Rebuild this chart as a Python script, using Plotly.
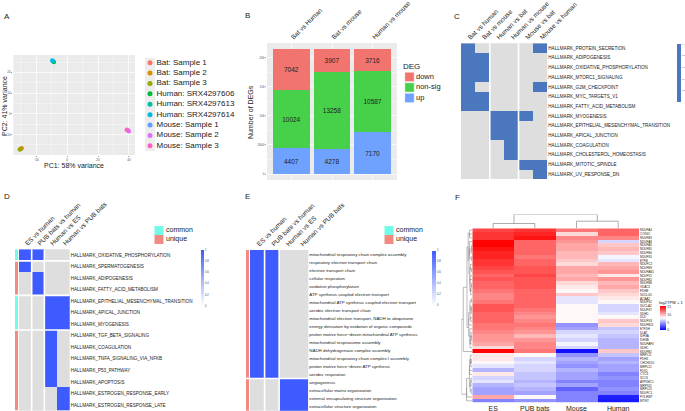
import numpy as np
import plotly.graph_objects as go

W, H = 685, 411
FONT = "Liberation Sans, Arial, sans-serif"

# ---------------- Panel A: PCA ----------------
pca_samples = ["Bat: Sample 1", "Bat: Sample 2", "Bat: Sample 3",
               "Human: SRX4297606", "Human: SRX4297613", "Human: SRX4297614",
               "Mouse: Sample 1", "Mouse: Sample 2", "Mouse: Sample 3"]
pca_pc1 = [-30.0, -29.4, -30.6, -8.6, -9.1, -9.6, 39.2, 39.9, 38.6]
pca_pc2 = [-17.0, -16.7, -17.3, 25.0, 25.4, 25.8, -8.0, -8.4, -7.7]
pca_colors = ["#F8766D", "#D39200", "#93AA00", "#00BA38", "#00C19F",
              "#00B9E3", "#619CFF", "#DB72FB", "#FF61C3"]
pca_xticks = [-20, 0, 20, 40]
pca_yticks = [-10, 0, 10, 20]

# ---------------- Panel B: DEG counts ----------------
deg_comparisons = ["Bat vs Human", "Bat vs mouse", "Human vs mouse"]
deg_up = [4407, 4278, 7170]
deg_nonsig = [10024, 13258, 10587]
deg_down = [7042, 3907, 3716]
deg_yticks = [0, 5000, 10000, 15000, 20000]
deg_levels = ["down", "non-sig", "up"]
deg_colors = {"down": "#F2746E", "non-sig": "#47D14A", "up": "#6FA1FF"}

# ---------------- Panel C: hallmark pathways ----------------
c_columns = ["Bat vs human", "Bat vs mouse", "Human vs bat",
             "Human vs mouse", "Mouse vs bat", "Mouse vs human"]
c_col_groups = [2, 2, 2]
c_pathways = ["HALLMARK_PROTEIN_SECRETION", "HALLMARK_ADIPOGENESIS",
              "HALLMARK_OXIDATIVE_PHOSPHORYLATION", "HALLMARK_MTORC1_SIGNALING",
              "HALLMARK_G2M_CHECKPOINT", "HALLMARK_MYC_TARGETS_V1",
              "HALLMARK_FATTY_ACID_METABOLISM", "HALLMARK_MYOGENESIS",
              "HALLMARK_EPITHELIAL_MESENCHYMAL_TRANSITION", "HALLMARK_APICAL_JUNCTION",
              "HALLMARK_COAGULATION", "HALLMARK_CHOLESTEROL_HOMEOSTASIS",
              "HALLMARK_MITOTIC_SPINDLE", "HALLMARK_UV_RESPONSE_DN"]
c_matrix = [
    [1, 0, 0, 0, 0, 1],
    [1, 1, 0, 0, 0, 0],
    [1, 1, 0, 0, 0, 0],
    [1, 1, 0, 0, 0, 0],
    [1, 0, 0, 0, 0, 1],
    [1, 1, 0, 0, 0, 0],
    [1, 1, 0, 0, 0, 0],
    [0, 0, 1, 1, 1, 0],
    [0, 0, 1, 1, 0, 0],
    [0, 0, 1, 1, 0, 0],
    [0, 0, 0, 1, 0, 0],
    [0, 0, 0, 1, 0, 0],
    [0, 0, 0, 0, 1, 1],
    [0, 0, 0, 0, 0, 1],
]

# ---------------- Panel D ----------------
d_columns = ["ES vs human", "PUB bats vs human", "Human vs ES", "Human vs PUB bats"]
d_col_groups = [1, 1, 2]
d_pathways = ["HALLMARK_OXIDATIVE_PHOSPHORYLATION", "HALLMARK_SPERMATOGENESIS",
              "HALLMARK_ADIPOGENESIS", "HALLMARK_FATTY_ACID_METABOLISM",
              "HALLMARK_EPITHELIAL_MESENCHYMAL_TRANSITION", "HALLMARK_APICAL_JUNCTION",
              "HALLMARK_MYOGENESIS", "HALLMARK_TGF_BETA_SIGNALING",
              "HALLMARK_COAGULATION", "HALLMARK_TNFA_SIGNALING_VIA_NFKB",
              "HALLMARK_P53_PATHWAY", "HALLMARK_APOPTOSIS",
              "HALLMARK_ESTROGEN_RESPONSE_EARLY", "HALLMARK_ESTROGEN_RESPONSE_LATE"]
d_row_groups = [1, 3, 3, 7]
d_annot = ["common", "unique", "unique", "unique", "common", "common", "common",
           "unique", "unique", "unique", "unique", "unique", "unique", "unique"]
d_matrix = [
    [1, 1, 0, 0],
    [1, 0, 0, 0],
    [0, 1, 0, 0],
    [0, 1, 0, 0],
    [0, 0, 1, 1],
    [0, 0, 1, 1],
    [0, 0, 1, 1],
    [0, 0, 1, 0],
    [0, 0, 1, 0],
    [0, 0, 1, 0],
    [0, 0, 1, 0],
    [0, 0, 1, 0],
    [0, 0, 0, 1],
    [0, 0, 0, 1],
]

# ---------------- Panel E ----------------
e_columns = ["ES vs human", "PUB bats vs human", "Human vs ES", "Human vs PUB bats"]
e_col_groups = [1, 1, 2]
e_terms = ["mitochondrial respiratory chain complex assembly",
           "respiratory electron transport chain",
           "electron transport chain",
           "cellular respiration",
           "oxidative phosphorylation",
           "ATP synthesis coupled electron transport",
           "mitochondrial ATP synthesis coupled electron transport",
           "aerobic electron transport chain",
           "mitochondrial electron transport, NADH to ubiquinone",
           "energy derivation by oxidation of organic compounds",
           "proton motive force\u2212driven mitochondrial ATP synthesis",
           "mitochondrial respirasome assembly",
           "NADH dehydrogenase complex assembly",
           "mitochondrial respiratory chain complex I assembly",
           "proton motive force\u2212driven ATP synthesis",
           "aerobic respiration",
           "angiogenesis",
           "extracellular matrix organization",
           "external encapsulating structure organization",
           "extracellular structure organization"]
e_row_groups = [16, 4]
e_annot = ["unique"] * 20
e_matrix = [[1, 1, 0, 0]] * 16 + [[0, 0, 1, 1]] * 4

annot_levels = ["common", "unique"]
annot_colors = {"common": "#72FBE6", "unique": "#F28B82"}

# ---------------- Panel F: expression heatmap ----------------
f_samples = ["ES", "PUB bats", "Mouse", "Human"]
f_genes = ["NDUFA4", "COX6C", "NDUFB3", "NDUFA8", "NDUFA2", "NDUFB5", "NDUFB6", "NDUFS5",
           "ETFB", "NDUFC2", "NDUFB9", "NDUFAB1", "NDUFV2", "NDUFB2", "NDUFB8", "VDAC3",
           "PDHB", "SUCLG1", "ACAA2", "NDUFS2", "SUCLA2", "NDUFS7", "SDHD", "DLD",
           "NDUFS3", "NDUFB11", "ETFDH", "DLAT", "IDH3A", "IDH3B", "NDUFAF4", "SDHC",
           "NDUFB1", "MRPL11", "PDHX", "CHCHD10", "MRPL22", "FDX1", "CYCS", "SCO1",
           "ATP5MC1", "MRPS11", "MRPL20", "NDUFC1", "POLRMT", "MTIF2"]
f_es = [13.5, 14, 14, 15.5, 15.5, 15, 14.5, 14.5, 14, 14, 13.5, 13, 12.5, 13, 12.5, 12.5,
        12, 11.5, 11.5, 12, 13, 13, 12.5, 12.5, 12.5, 12, 12, 11.5, 11, 11, 10.5, 9,
        15.5, 8.5, 8.5, 8, 7, 5.5, 8.5, 6.5, 7, 5.5, 5, 5, 10.5, 4]
f_pub = [14, 14.5, 15, 12.5, 12.5, 12.5, 12.5, 12, 12.5, 12.5, 13, 13, 13.5, 13, 13, 13,
         12.5, 12.5, 12.5, 12.5, 12.5, 12, 11.5, 11, 11.5, 12, 11.5, 11, 10, 11, 11.5, 11.5,
         12, 8, 6.5, 7, 6.5, 6.5, 6, 6, 5.5, 6, 5.5, 5, 8, 4.5]
f_mouse = [12, 9, 11.5, 11, 10.5, 10.5, 10, 10, 9.5, 9, 10.5, 10.5, 10, 10.5, 9, 8.5,
           8, 9.5, 7, 7, 8, 8, 8, 8, 8, 4.5, 5, 6.5, 7, 6.5, 7.5, 6.5,
           0.5, 4.5, 5.5, 5, 4.5, 5.5, 5, 5, 4, 5, 3, 4, 4, 4]
f_human = [12.5, 12.5, 11.5, 6.5, 9.5, 10, 9.5, 7.5, 7, 10, 10.5, 11, 8.5, 11, 10, 10.5,
           9.5, 9, 8.5, 8, 6.5, 6.5, 7, 8, 9.5, 9, 6, 6.5, 6, 5.5, 5.5, 5.5,
           9.5, 6, 5, 5.5, 5, 5, 4, 4.5, 4, 4, 4.5, 4, 1, 0.8]
f_ticks = [0, 5, 10, 15]

C_BLUE = "#4B77BE"
D_BLUE = "#3D5BFE"
GREY_CELL = "#DEDEDE"
PANEL_BG = "#EBEBEB"


# ---------------- helpers ----------------
def dx(a, b):
    return [a / W, b / W]


def dy(top, bottom):
    return [1 - bottom / H, 1 - top / H]


def px(x):
    return x / W


def py(y):
    return 1 - y / H


def midpoints(ticks, lo, hi):
    step = ticks[1] - ticks[0]
    ext = [ticks[0] - step] + list(ticks) + [ticks[-1] + step]
    return [(a + b) / 2 for a, b in zip(ext[:-1], ext[1:]) if lo <= (a + b) / 2 <= hi]


def adjacent_dendrogram(mat):
    """Average-linkage clustering restricted to neighbours (keeps display order)."""
    mat = np.asarray(mat, float)
    clusters = [([i], float(i), 0.0) for i in range(len(mat))]
    pos, hts = [], []
    while len(clusters) > 1:
        best_k, best_d = 0, None
        for k in range(len(clusters) - 1):
            a = mat[clusters[k][0]]
            b = mat[clusters[k + 1][0]]
            d = np.mean(np.sqrt(((a[:, None, :] - b[None, :, :]) ** 2).sum(-1)))
            if best_d is None or d < best_d:
                best_k, best_d = k, d
        (ma, pa, ha), (mb, pb, hb) = clusters[best_k], clusters[best_k + 1]
        h = max(best_d, ha, hb)
        pos += [pa, pa, pb, pb, None]
        hts += [ha, h, h, hb, None]
        clusters[best_k:best_k + 2] = [(ma + mb, (pa + pb) / 2, h)]
    return pos, hts, clusters[0][2]


fig = go.Figure()
shapes = []
annotations = []
layout = dict(width=W, height=H, autosize=False,
              margin=dict(l=0, r=0, t=0, b=0, pad=0, autoexpand=False),
              paper_bgcolor="white", plot_bgcolor="rgba(0,0,0,0)",
              showlegend=False, barmode="stack",
              font=dict(family=FONT, color="#1a1a1a"))


def add_bg(xa, ya, color):
    shapes.append(dict(type="rect", xref=f"{xa} domain", yref=f"{ya} domain",
                       x0=0, x1=1, y0=0, y1=1, fillcolor=color,
                       line=dict(width=0), layer="below"))


def blank_axis(domain, rng, anchor, **kw):
    d = dict(domain=domain, range=rng, anchor=anchor, showgrid=False, zeroline=False,
             showline=False, showticklabels=False, ticks="", fixedrange=True)
    d.update(kw)
    return d


def text_ann(x, y, text, size, **kw):
    a = dict(x=px(x), y=py(y), xref="paper", yref="paper", text=text, showarrow=False,
             xanchor="center", yanchor="middle",
             font=dict(size=size, color="#1a1a1a", family=FONT))
    a.update(kw)
    annotations.append(a)


def legend_axis(n_ax, xdom, ydom, n_items, width):
    layout[f"xaxis{n_ax}"] = blank_axis(dx(*xdom), [0, width], f"y{n_ax}")
    layout[f"yaxis{n_ax}"] = blank_axis(dy(*ydom), [n_items - 0.5, -0.5], f"x{n_ax}")


# ================= Panel A =================
a_xr = [-34.8, 43.9]
a_yr = [-19.9, 28.4]
fig.add_trace(go.Scatter(x=pca_pc1, y=pca_pc2, mode="markers",
                         marker=dict(color=pca_colors, size=4.5, line=dict(width=0)),
                         xaxis="x", yaxis="y", hoverinfo="skip"))
grid_common = dict(showgrid=True, gridcolor="white", gridwidth=0.7, zeroline=False,
                   showline=False, ticks="outside", ticklen=1, tickwidth=0.5,
                   tickcolor="#333333", tickfont=dict(size=3, color="#4d4d4d"),
                   fixedrange=True)
layout["xaxis"] = dict(domain=dx(13.3, 135), range=a_xr, anchor="y",
                       tickmode="array", tickvals=pca_xticks,
                       minor=dict(tickvals=midpoints(pca_xticks, *a_xr), showgrid=True,
                                  gridcolor="white", gridwidth=0.35, ticks=""),
                       **grid_common)
layout["yaxis"] = dict(domain=dy(55, 155), range=a_yr, anchor="x",
                       tickmode="array", tickvals=pca_yticks,
                       minor=dict(tickvals=midpoints(pca_yticks, *a_yr), showgrid=True,
                                  gridcolor="white", gridwidth=0.35, ticks=""),
                       **grid_common)
add_bg("x", "y", PANEL_BG)
text_ann(74, 165.5, "PC1: 58% variance", 7)
text_ann(4, 106, "PC2: 41% variance", 7, textangle=-90)

# legend A
n = len(pca_samples)
legend_axis(2, (145, 230), (57.5, 151), n, 85)
shapes.append(dict(type="rect", xref="x2", yref="y2", x0=0, x1=10, y0=-0.5, y1=n - 0.5,
                   fillcolor="#EDEDED", line=dict(width=0), layer="below"))
fig.add_trace(go.Scatter(x=[5] * n, y=list(range(n)), mode="markers",
                         marker=dict(color=pca_colors, size=5), xaxis="x2", yaxis="y2",
                         hoverinfo="skip", cliponaxis=False))
fig.add_trace(go.Scatter(x=[11.5] * n, y=list(range(n)), mode="text", text=pca_samples,
                         textposition="middle right",
                         textfont=dict(size=8, color="#1a1a1a", family=FONT),
                         xaxis="x2", yaxis="y2", hoverinfo="skip", cliponaxis=False))

# ================= Panel B =================
b_yr = [-1030, 22560]
for name, vals in [("up", deg_up), ("non-sig", deg_nonsig), ("down", deg_down)]:
    fig.add_trace(go.Bar(x=list(range(len(deg_comparisons))), y=vals, width=0.9, name=name,
                         marker=dict(color=deg_colors[name], line=dict(width=0)),
                         text=[str(v) for v in vals], textposition="inside",
                         insidetextanchor="middle", textangle=0,
                         textfont=dict(size=6.5, color="#222222", family=FONT),
                         xaxis="x3", yaxis="y3", hoverinfo="skip"))
layout["xaxis3"] = dict(domain=dx(267, 397), range=[-0.6, len(deg_comparisons) - 0.4],
                        anchor="y3", side="top", tickmode="array",
                        tickvals=list(range(len(deg_comparisons))), ticktext=deg_comparisons,
                        tickangle=-45, tickfont=dict(size=6.5, color="#1a1a1a"),
                        showgrid=True, gridcolor="white", gridwidth=0.7, zeroline=False,
                        showline=False, ticks="", fixedrange=True)
layout["yaxis3"] = dict(domain=dy(43, 180), range=b_yr, anchor="x3", tickmode="array",
                        tickvals=deg_yticks,
                        minor=dict(tickvals=midpoints(deg_yticks, *b_yr), showgrid=True,
                                   gridcolor="white", gridwidth=0.35, ticks=""),
                        **grid_common)
add_bg("x3", "y3", PANEL_BG)
text_ann(250, 112, "Number of DEGs", 7, textangle=-90)

# legend B
legend_axis(4, (400, 445), (71.7, 103.2), len(deg_levels), 45)
fig.add_trace(go.Scatter(x=[9.5] * len(deg_levels), y=list(range(len(deg_levels))),
                         mode="markers",
                         marker=dict(symbol="square", size=9.5,
                                     color=[deg_colors[l] for l in deg_levels],
                                     line=dict(width=0.6, color="white")),
                         xaxis="x4", yaxis="y4", hoverinfo="skip", cliponaxis=False))
fig.add_trace(go.Scatter(x=[16] * len(deg_levels), y=list(range(len(deg_levels))),
                         mode="text", text=deg_levels, textposition="middle right",
                         textfont=dict(size=7.5, color="#1a1a1a", family=FONT),
                         xaxis="x4", yaxis="y4", hoverinfo="skip", cliponaxis=False))
text_ann(401, 66.5, "DEG", 8, xanchor="left")


# ================= heatmap helpers =================
def col_axis(domain, labels, anchor, size=6.5):
    return dict(domain=domain, range=[-0.5, len(labels) - 0.5], anchor=anchor, side="top",
                tickmode="array", tickvals=list(range(len(labels))), ticktext=labels,
                tickangle=-45, tickfont=dict(size=size, color="#1a1a1a"), showgrid=False,
                zeroline=False, showline=False, ticks="", fixedrange=True)


def row_axis(domain, labels, anchor, size):
    return dict(domain=domain, range=[len(labels) - 0.5, -0.5], anchor=anchor, side="right",
                tickmode="array", tickvals=list(range(len(labels))), ticktext=labels,
                tickfont=dict(size=size, color="#1a1a1a"), showgrid=False, zeroline=False,
                showline=False, ticks="", fixedrange=True)


def masked(mat):
    return [[(1 if v else None) for v in row] for row in mat]


def col_gaps(groups, xa, ya):
    for b in np.cumsum(groups)[:-1]:
        shapes.append(dict(type="line", xref=xa, yref=f"{ya} domain", x0=b - 0.5, x1=b - 0.5,
                           y0=0, y1=1, line=dict(color="white", width=1.6), layer="above"))


def row_gaps(groups, ya, x0, x1):
    for b in np.cumsum(groups)[:-1]:
        shapes.append(dict(type="line", xref="paper", yref=ya, x0=px(x0), x1=px(x1),
                           y0=b - 0.5, y1=b - 0.5, line=dict(color="white", width=1.6),
                           layer="above"))


def cbar(x, ytop, length, thick, tickvals, size):
    return dict(x=px(x), xanchor="left", y=py(ytop), yanchor="top", len=length,
                lenmode="pixels", thickness=thick, thicknessmode="pixels", outlinewidth=0,
                xpad=0, ypad=0, tickvals=tickvals, ticks="",
                tickfont=dict(size=size, color="#333333", family=FONT))


# ================= Panel C =================
fig.add_trace(go.Heatmap(z=masked(c_matrix), x=list(range(len(c_columns))),
                         y=list(range(len(c_pathways))),
                         colorscale=[[0, C_BLUE], [1, C_BLUE]], zmin=0, zmax=1,
                         colorbar=cbar(677, 44, 58, 3.5, [0.2, 0.4, 0.6, 0.8, 1], 2.4),
                         xaxis="x5", yaxis="y5", hoverinfo="skip"))
layout["xaxis5"] = col_axis(dx(461, 547.3), c_columns, "y5")
layout["yaxis5"] = row_axis(dy(43.3, 179), c_pathways, "x5", 4.6)
add_bg("x5", "y5", GREY_CELL)
col_gaps(c_col_groups, "x5", "y5")


# ================= Panels D and E =================
def pathway_panel(ann_ax, hm_ax, leg_ax, ann_dom, hm_dom, ydom, columns, rows, annot,
                  matrix, row_groups, col_groups, row_font, cb_x, cb_len, cb_thick,
                  leg_xdom):
    ya = f"y{ann_ax}"
    fig.add_trace(go.Heatmap(z=[[annot_levels.index(a)] for a in annot], x=[0],
                             y=list(range(len(rows))),
                             colorscale=[[0, annot_colors["common"]],
                                         [1, annot_colors["unique"]]],
                             zmin=0, zmax=1, showscale=False,
                             xaxis=f"x{ann_ax}", yaxis=ya, hoverinfo="skip"))
    fig.add_trace(go.Heatmap(z=masked(matrix), x=list(range(len(columns))),
                             y=list(range(len(rows))),
                             colorscale=[[0, "#FFFFFF"], [1, D_BLUE]], zmin=0, zmax=1,
                             colorbar=cbar(cb_x, ydom[0] + 0.5, cb_len, cb_thick,
                                           [0, 0.2, 0.4, 0.6, 0.8, 1], 2.6),
                             xaxis=f"x{hm_ax}", yaxis=ya, hoverinfo="skip"))
    layout[f"xaxis{ann_ax}"] = blank_axis(dx(*ann_dom), [-0.5, 0.5], ya)
    layout[f"xaxis{hm_ax}"] = col_axis(dx(*hm_dom), columns, ya)
    layout[f"yaxis{ann_ax}"] = row_axis(dy(*ydom), rows, f"x{hm_ax}", row_font)
    add_bg(f"x{hm_ax}", ya, GREY_CELL)
    col_gaps(col_groups, f"x{hm_ax}", ya)
    row_gaps(row_groups, ya, ann_dom[0], hm_dom[1])
    # legend
    legend_axis(leg_ax, leg_xdom, (226, 244), len(annot_levels), 50)
    fig.add_trace(go.Scatter(x=[9] * 2, y=[0, 1], mode="markers",
                             marker=dict(symbol="square", size=9,
                                         color=[annot_colors[l] for l in annot_levels],
                                         line=dict(width=0)),
                             xaxis=f"x{leg_ax}", yaxis=f"y{leg_ax}", hoverinfo="skip",
                             cliponaxis=False))
    fig.add_trace(go.Scatter(x=[16] * 2, y=[0, 1], mode="text", text=annot_levels,
                             textposition="middle right",
                             textfont=dict(size=7, color="#1a1a1a", family=FONT),
                             xaxis=f"x{leg_ax}", yaxis=f"y{leg_ax}", hoverinfo="skip",
                             cliponaxis=False))


pathway_panel(6, 7, 8, (15, 18.3), (19, 69.7), (249.3, 410.7), d_columns, d_pathways,
              d_annot, d_matrix, d_row_groups, d_col_groups, 4.6, 201, 56, 3, (150, 200))
pathway_panel(9, 10, 11, (246, 249.3), (250, 308.3), (250, 410.7), e_columns, e_terms,
              e_annot, e_matrix, e_row_groups, e_col_groups, 4.4, 432, 55, 4, (380, 430))

# ================= Panel F =================
f_z = np.array([f_es, f_pub, f_mouse, f_human]).T
fig.add_trace(go.Heatmap(z=f_z, x=list(range(len(f_samples))), y=list(range(len(f_genes))),
                         colorscale=[[0, "#0000FF"], [0.5, "#FFFFFF"], [1, "#FF0000"]],
                         zmin=0, zmax=15.6,
                         colorbar=cbar(660, 306, 24, 6, f_ticks, 3.5),
                         xaxis="x12", yaxis="y12", hoverinfo="skip"))
f_xdom = dx(472.3, 639)
f_ydom = dy(228.3, 402.7)
layout["xaxis12"] = dict(domain=f_xdom, range=[-0.5, len(f_samples) - 0.5], anchor="y12",
                         side="bottom", tickmode="array", tickvals=list(range(len(f_samples))),
                         ticktext=f_samples, tickfont=dict(size=7, color="#1a1a1a"),
                         showgrid=False, zeroline=False, showline=False, ticks="",
                         fixedrange=True)
layout["yaxis12"] = row_axis(f_ydom, f_genes, "x12", 3)

cpos, chts, croot = adjacent_dendrogram(f_z.T)
fig.add_trace(go.Scatter(x=cpos, y=chts, mode="lines",
                         line=dict(color="#8a8a8a", width=0.7),
                         xaxis="x13", yaxis="y13", hoverinfo="skip", cliponaxis=False))
layout["xaxis13"] = blank_axis(f_xdom, [-0.5, len(f_samples) - 0.5], "y13")
layout["yaxis13"] = blank_axis(dy(214.5, 228.3), [0, croot], "x13")

rpos, rhts, rroot = adjacent_dendrogram(f_z)
fig.add_trace(go.Scatter(x=rhts, y=rpos, mode="lines",
                         line=dict(color="#8a8a8a", width=0.6),
                         xaxis="x14", yaxis="y14", hoverinfo="skip", cliponaxis=False))
layout["xaxis14"] = blank_axis(dx(461.5, 472.3), [rroot, 0], "y14")
layout["yaxis14"] = blank_axis(f_ydom, [len(f_genes) - 0.5, -0.5], "x14")
text_ann(657, 302.5, "log2TPM + 1", 4.2, xanchor="left")

# ================= panel letters =================
for letter, (lx, ly) in {"A": (7, 17), "B": (247, 16), "C": (457, 17),
                         "D": (7, 196), "E": (247, 196), "F": (457, 197)}.items():
    text_ann(lx, ly, letter, 8)

layout["shapes"] = shapes
layout["annotations"] = annotations
fig.update_layout(**layout)

fig.write_html("out.html", config={"displayModeBar": False, "staticPlot": True},
               post_script="document.body.style.margin='0';document.body.style.overflow='hidden';")
